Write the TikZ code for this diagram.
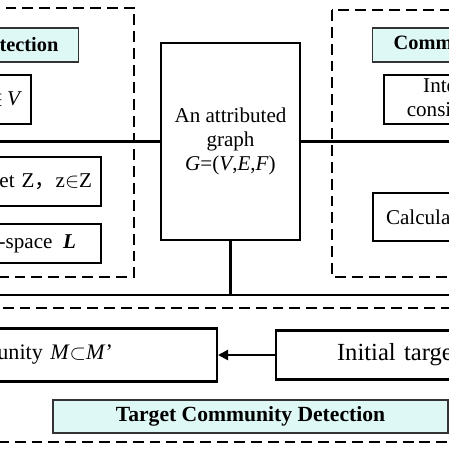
\documentclass[tikz,border=0pt]{standalone}
\usepackage{fontspec}
\setmainfont{Liberation Serif}
\newfontfamily\cjkfont{Noto Sans CJK SC}
\usepackage{tikz}
\usetikzlibrary{arrows.meta}
\usepackage{xcolor}
\definecolor{titlecyan}{RGB}{222,248,245}

\begin{document}
\begin{tikzpicture}[x=0.02cm,y=-0.02cm,>={Triangle[length=2mm,width=2mm]},
  font=\fontsize{12}{13.6}\selectfont,
  box/.style={draw,line width=1.2pt,minimum height=#1,inner ysep=0pt},
  title/.style={draw=black!80,line width=0.7pt,fill=titlecyan,minimum height=0.68cm,inner ysep=0pt,font=\bfseries\fontsize{11.6}{13}\selectfont},
  frame/.style={line width=1.2pt,dash pattern=on 6.2pt off 3.4pt},
  link/.style={line width=1.2pt}]
\useasboundingbox (0,0) rectangle (449,449);
\clip (0,0) rectangle (449,449);
\draw[frame] (-20,8) rectangle (134,277);
\draw[frame] (332,10) rectangle (470,277);
\draw[frame] (-20,308) rectangle (470,442);
\node[box=3.94cm,minimum width=2.78cm,align=center] (G) at (230.5,141.5) {An attributed\\graph\\\textit{G}=(\textit{V},\textit{E},\textit{F})};
\node[title,anchor=east,text width=4cm,align=right,inner xsep=0.4cm] (ltitle) at (79,45) {Detection};
\node[box=0.98cm,anchor=east,text width=3cm,align=right,inner xsep=0.18cm] (lv) at (32,99.5) {\textit{v}\,$\in$\,\textit{V}};
\node[box=0.98cm,anchor=east,text width=4cm,align=right,inner xsep=0.18cm] (lz) at (102,181.5) {Attribute set Z{\cjkfont ，}z$\in$Z};
\node[box=0.78cm,anchor=east,text width=4cm,align=right,inner xsep=0.5cm] (ll) at (102,243.5) {Sub-space\enspace\textbf{\textit{L}}};
\node[title,anchor=west,text width=5cm,align=left,inner xsep=0.42cm] (rtitle) at (372,45) {Community Detection};
\node[box=0.98cm,minimum width=2.88cm,align=center] (ri) at (456,99.5) {Internal\\consistency};
\node[box=0.96cm,anchor=west,text width=4cm,align=left,inner xsep=0.26cm] (rc) at (372,217) {Calculate};
\node[box=0.98cm,anchor=west,text width=5cm,align=left,inner xsep=1.22cm,font=\fontsize{14}{16}\selectfont] (rinit) at (275,355) {Initial target community};
\node[box=1.06cm,anchor=east,text width=5cm,align=right,inner xsep=2.08cm,font=\fontsize{12.6}{15}\selectfont] (lm) at (218,355) {Target community \textit{M}$\subset$\textit{M}’};
\node[title,minimum width=7.9cm,minimum height=0.66cm,font=\bfseries\fontsize{12.3}{14}\selectfont] (btitle) at (250.5,416.5) {Target Community Detection};
\coordinate (lend) at (-10,141.5);
\coordinate (rend) at (460,141.5);
\coordinate (bl) at (-10,295);
\coordinate (br) at (460,295);
\draw[link] (lend) -- (G.west);
\draw[link] (G.east) -- (rend);
\draw[link] (bl) -- (br);
\draw[link] (G.south) -- (G.south |- bl);
\draw[link,->] (rinit.west) -- (lm.east);
\end{tikzpicture}
\end{document}
